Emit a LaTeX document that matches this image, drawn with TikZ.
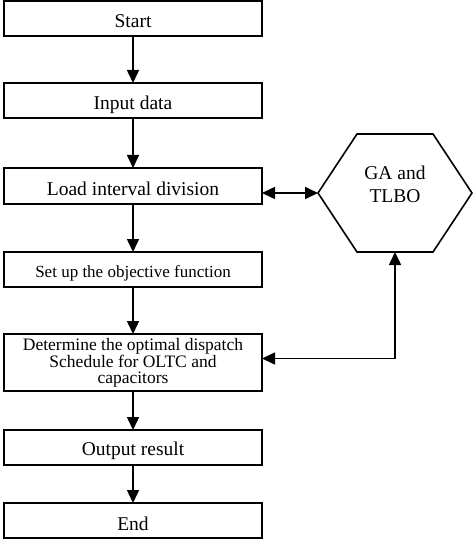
\documentclass[tikz,border=0pt]{standalone}
\usepackage{fontspec}
\setmainfont{Liberation Serif}
\usetikzlibrary{positioning,arrows.meta}

\tikzset{
	stage/.style={draw, rectangle, minimum width=258pt, minimum height=35pt, inner sep=2pt, outer sep=0pt,
		font=\fontsize{19.5}{22}\selectfont, text height=19pt, text depth=0pt},
}

\begin{document}
\begin{tikzpicture}[->,>={Triangle[length=13pt,width=12pt]},line width=1.6pt,node distance=47pt]
	\useasboundingbox (0,0) rectangle (474pt,-540pt);
	\node [stage] (start) at (133pt,-18.5pt) {Start};
	\node [stage] (input) [below = 47pt of start] {Input data};
	\node [stage, minimum height=36pt] (load) [below = 50pt of input] {Load interval division};
	\node [stage, text height=15pt, font=\fontsize{17}{20}\selectfont] (obj) [below = 48pt of load] {Set up the objective function};
	\node [stage, minimum height=57pt, text height=, text depth=, align=center,
		font=\fontsize{17.5}{16}\selectfont] (det) [below = 47pt of obj]
		{Determine the optimal dispatch\\Schedule for OLTC and\\capacitors};
	\node [stage, text height=16pt] (out) [below = 39pt of det] {Output result};
	\node [stage, text height=19pt] (end) [below = 38pt of out] {End};

	\node [minimum width=154pt, minimum height=118pt, outer sep=0pt,
		label={[align=center, font=\fontsize{19.5}{23}\selectfont, yshift=9pt]center:GA and\\TLBO}]
		(hex) at (395pt,-193pt) {};
	\draw [-] (hex.west) -- ([xshift=39pt]hex.north west) -- ([xshift=-39pt]hex.north east)
		-- (hex.east) -- ([xshift=-39pt]hex.south east) -- ([xshift=39pt]hex.south west) -- cycle;

	\draw (start) -- (input);
	\draw (input) -- (load);
	\draw (load) -- (obj);
	\draw (obj) -- (det);
	\draw (det) -- (out);
	\draw (out) -- (end);

	\draw [<->] (load.east |- hex.west) -- (hex.west);
	\draw [<->] ([yshift=4pt]det.east) -| (hex.south);
\end{tikzpicture}
\end{document}
